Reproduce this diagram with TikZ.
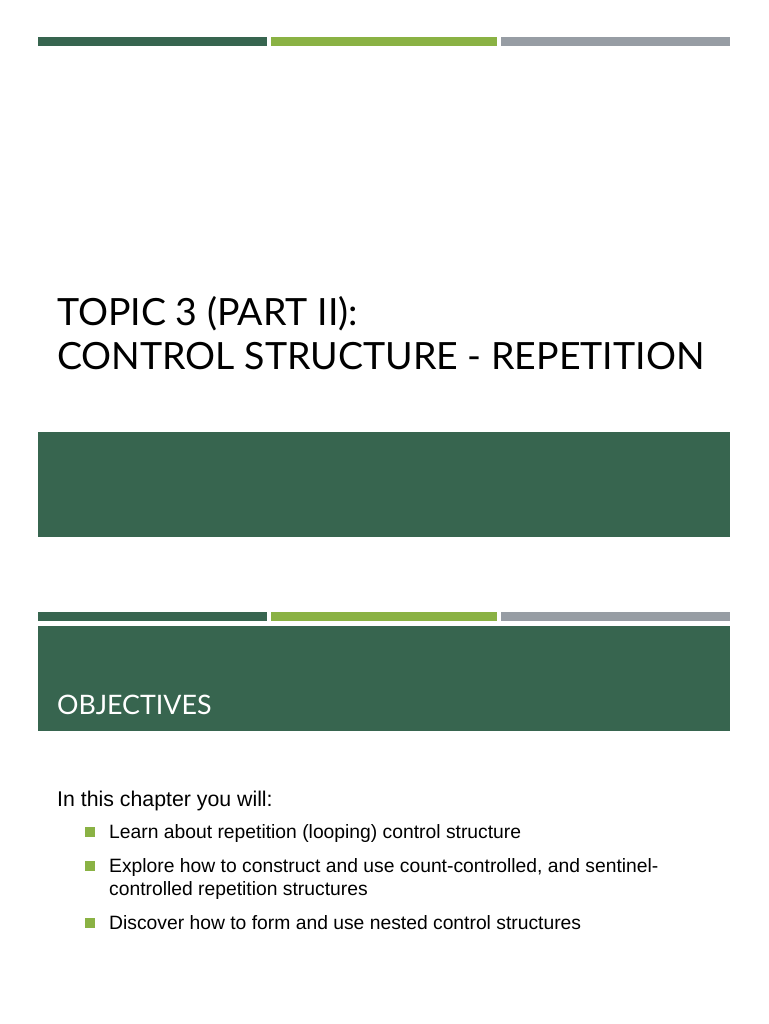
\documentclass[tikz,border=0pt]{standalone}
\usepackage{fontspec}
\setmainfont{Liberation Sans}
\newfontfamily\titlefont{Lato}
\definecolor{darkgreen}{HTML}{37654F}
\definecolor{leafgreen}{HTML}{8AB244}
\definecolor{bargray}{HTML}{979DA4}
\tikzset{
  bullet/.style={fill=leafgreen, minimum size=10pt, inner sep=0pt},
  itemtext/.style={anchor=base west, font=\fontsize{19.3}{23}\selectfont, inner sep=0pt},
  titletext/.style={anchor=base west, inner sep=0pt, font=\titlefont\fontsize{37.5}{45}\selectfont}
}
\begin{document}
\begin{tikzpicture}[x=1pt,y=-1pt]
    \useasboundingbox (0,0) rectangle (768,1024);
    \fill [white] (0,0) rectangle (768,1024);
    % colour bars above both slides
    \foreach \y in {37,612}{
        \fill [darkgreen] (38,\y) rectangle (267,\y+9);
        \fill [leafgreen] (271,\y) rectangle (497,\y+9);
        \fill [bargray] (501,\y) rectangle (730,\y+9);
    }
    \node (title1) [titletext] at (57,325) {TOPIC 3 (PART II):};
    \node (title2) [titletext] at (57,369) {CONTROL STRUCTURE - REPETITION};
    \fill [darkgreen] (38,432) rectangle (730,537);
    \fill [darkgreen] (38,626) rectangle (730,731);
    \node (objectives) [anchor=base west, inner sep=0pt, text=white, font=\titlefont\fontsize{26.8}{30}\selectfont]
        at (57,714) {OBJECTIVES};
    \node (intro) [anchor=base west, inner sep=0pt, font=\fontsize{21.3}{25}\selectfont]
        at (57,806) {In this chapter you will:};
    \foreach \y/\t [count=\i] in {838/{Learn about repetition (looping) control structure},
        872/{Explore how to construct and use count-controlled, and sentinel-},
        929/{Discover how to form and use nested control structures}}{
        \node (b\i) [bullet] at (90,\y-6) {};
        \node (item\i) [itemtext] at (109,\y) {\t};
    }
    \node (item2b) [itemtext] at (109,895) {controlled repetition structures};
\end{tikzpicture}
\end{document}
